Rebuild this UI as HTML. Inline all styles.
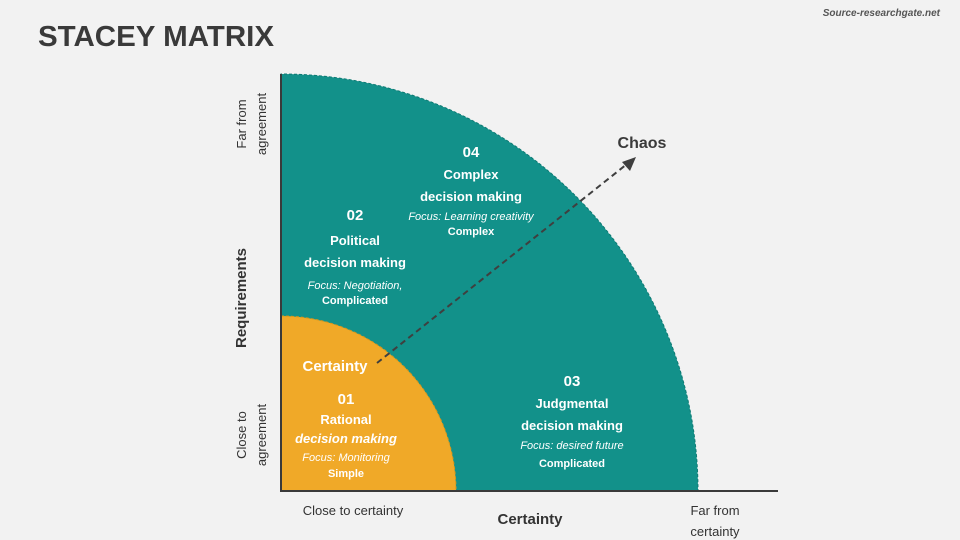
<!DOCTYPE html>
<html><head><meta charset="utf-8"><style>
body{margin:0;background:#f2f2f2;}
svg{display:block;font-family:"Liberation Sans",sans-serif;}
</style></head><body>
<svg width="960" height="540" viewBox="0 0 960 540">
<rect width="960" height="540" fill="#f2f2f2"/>
<text x="38" y="46" font-size="29" font-weight="bold" fill="#3a3a3a" textLength="236" lengthAdjust="spacingAndGlyphs">STACEY MATRIX</text>
<text x="940" y="16" font-size="10" font-weight="bold" font-style="italic" fill="#555" text-anchor="end">Source-researchgate.net</text>
<path d="M281,491 L281,74 A417,417 0 0 1 698,491 Z" fill="#12918a" stroke="#0d7a73" stroke-dasharray="3,2"/>
<path d="M281,491 L281,316 A175,175 0 0 1 456,491 Z" fill="#f0a928" stroke="#d99518" stroke-dasharray="3,2"/>
<line x1="281" y1="74" x2="281" y2="492" stroke="#3a3a3a" stroke-width="2"/>
<line x1="280" y1="491" x2="778" y2="491" stroke="#3a3a3a" stroke-width="2"/>
<line x1="377" y1="363" x2="627" y2="164" stroke="#3f3f3f" stroke-width="2" stroke-dasharray="6,4"/>
<polygon points="636,157 622,162 630,171" fill="#3f3f3f"/>
<text x="642" y="148" font-size="16" font-weight="bold" fill="#3a3a3a" text-anchor="middle">Chaos</text>
<g fill="#fff" text-anchor="middle" font-weight="bold">
<text x="335" y="371" font-size="15">Certainty</text>
<text x="346" y="404" font-size="15">01</text>
<text x="346" y="424" font-size="13">Rational</text>
<text x="346" y="443" font-size="13" font-style="italic">decision making</text>
<text x="346" y="461" font-size="11" font-weight="normal" font-style="italic">Focus: Monitoring</text>
<text x="346" y="477" font-size="11">Simple</text>
<text x="355" y="220" font-size="15">02</text>
<text x="355" y="245" font-size="13">Political</text>
<text x="355" y="267" font-size="13">decision making</text>
<text x="355" y="289" font-size="11" font-weight="normal" font-style="italic">Focus: Negotiation,</text>
<text x="355" y="304" font-size="11">Complicated</text>
<text x="471" y="157" font-size="15">04</text>
<text x="471" y="179" font-size="13">Complex</text>
<text x="471" y="201" font-size="13">decision making</text>
<text x="471" y="220" font-size="11" font-weight="normal" font-style="italic">Focus: Learning creativity</text>
<text x="471" y="235" font-size="11">Complex</text>
<text x="572" y="386" font-size="15">03</text>
<text x="572" y="408" font-size="13">Judgmental</text>
<text x="572" y="430" font-size="13">decision making</text>
<text x="572" y="449" font-size="11" font-weight="normal" font-style="italic">Focus: desired future</text>
<text x="572" y="467" font-size="11">Complicated</text>
</g>
<g fill="#333" text-anchor="middle" font-size="13">
<text x="353" y="515">Close to certainty</text>
<text x="530" y="524" font-size="15" font-weight="bold">Certainty</text>
<text x="715" y="515">Far from</text>
<text x="715" y="536">certainty</text>
<text transform="translate(246,124) rotate(-90)">Far from</text>
<text transform="translate(266,124) rotate(-90)">agreement</text>
<text transform="translate(246,298) rotate(-90)" font-size="15" font-weight="bold">Requirements</text>
<text transform="translate(246,435) rotate(-90)">Close to</text>
<text transform="translate(266,435) rotate(-90)">agreement</text>
</g>
</svg>
</body></html>
